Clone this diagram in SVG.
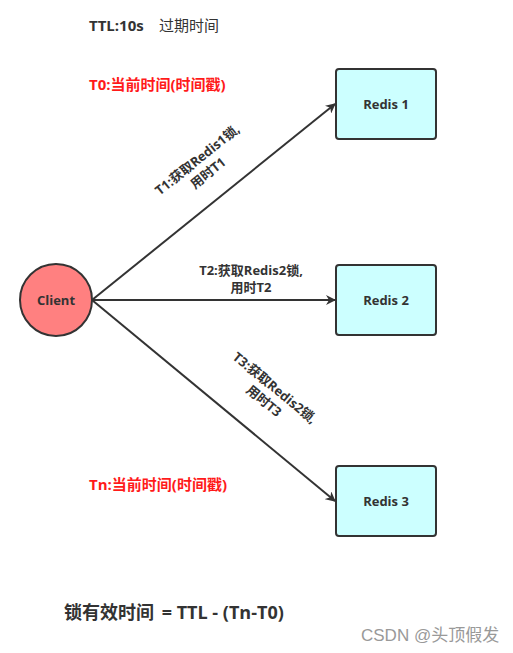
<svg xmlns="http://www.w3.org/2000/svg" width="513" height="653" viewBox="0 0 513 653">
<style>
text{font-family:"Open Sans","Noto Sans CJK SC",sans-serif;font-weight:bold;fill:#333}
.red{fill:#ff1a1a}
.lbl{font-size:13px;text-anchor:middle}
.box{fill:#ccffff;stroke:#333;stroke-width:2}
.conn{stroke:#333;stroke-width:2;fill:none;marker-end:url(#arr)}
</style>
<defs>
<marker id="arr" markerWidth="10" markerHeight="10" refX="9" refY="5" orient="auto" markerUnits="userSpaceOnUse">
<path d="M0,0 L10,5 L0,10 L3,5 Z" fill="#333"/>
</marker>
</defs>
<rect width="513" height="653" fill="#fff"/>
<text x="89" y="31" font-size="15">TTL:10s</text>
<text x="159" y="31" font-size="15" style="font-weight:normal">过期时间</text>
<text x="89" y="90" font-size="15" class="red">T0:当前时间(时间戳)</text>
<text x="89" y="490" font-size="15" class="red">Tn:当前时间(时间戳)</text>
<g id="connectors">
<line class="conn" x1="92" y1="300" x2="335" y2="104"/>
<line class="conn" x1="92" y1="300" x2="335" y2="300"/>
<line class="conn" x1="92" y1="300" x2="335" y2="501"/>
<g transform="translate(204,168) rotate(-38.8)">
<text class="lbl" x="0" y="-6">T1:获取Redis1锁,</text>
<text class="lbl" x="0" y="11">用时T1</text>
</g>
<text class="lbl" x="251" y="275">T2:获取Redis2锁,</text>
<text class="lbl" x="251" y="292">用时T2</text>
<g transform="translate(268,396) rotate(39.5)">
<text class="lbl" x="0" y="-6">T3:获取Redis2锁,</text>
<text class="lbl" x="0" y="11">用时T3</text>
</g>
</g>
<g id="client">
<circle cx="56" cy="300" r="36" fill="#ff8080" stroke="#333" stroke-width="2"/>
<text x="56" y="305" font-size="13" text-anchor="middle">Client</text>
</g>
<g id="redis1">
<rect class="box" x="336" y="69" width="100" height="70" rx="3"/>
<text x="386" y="109" font-size="13" text-anchor="middle">Redis 1</text>
</g>
<g id="redis2">
<rect class="box" x="336" y="265" width="100" height="70" rx="3"/>
<text x="386" y="305" font-size="13" text-anchor="middle">Redis 2</text>
</g>
<g id="redis3">
<rect class="box" x="336" y="466" width="100" height="70" rx="3"/>
<text x="386" y="506" font-size="13" text-anchor="middle">Redis 3</text>
</g>
<text x="64" y="619" font-size="18" xml:space="preserve">锁有效时间 <tspan dx="3">=</tspan> TTL - (Tn-T0)</text>
<text x="361" y="641" font-size="17" style="font-family:'Liberation Sans','Noto Sans CJK SC',sans-serif;font-weight:normal;fill:#999">CSDN @头顶假发</text>
</svg>
